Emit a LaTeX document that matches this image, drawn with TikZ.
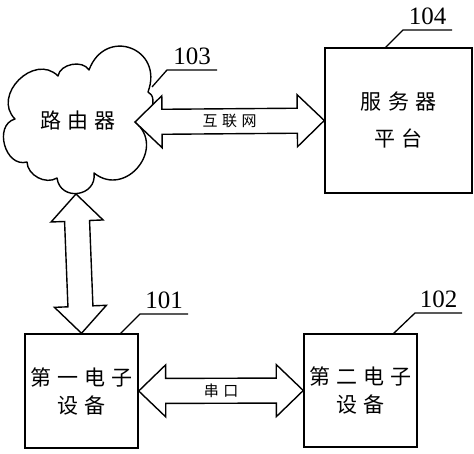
\documentclass[tikz,border=0pt]{standalone}
\usepackage{fontspec}
\setmainfont{Liberation Serif}
\newfontfamily\cjk{Noto Sans CJK SC}
\usetikzlibrary{positioning, calc}

% gap between chinese characters
\newcommand{\cg}{\kern0.3em}

\def\headlen{27pt}
\def\headwid{26pt}
\def\shaftwid{12.5pt}

% fat double arrow from #1 to #2
\newcommand{\fatarrow}[2]{%
    \draw[fat] (#1)
        -- ($(#1)!\headlen!(#2)!\headwid!90:(#2)$)
        -- ($(#1)!\headlen!(#2)!\shaftwid!90:(#2)$)
        -- ($(#2)!\headlen!(#1)!\shaftwid!-90:(#1)$)
        -- ($(#2)!\headlen!(#1)!\headwid!-90:(#1)$)
        -- (#2)
        -- ($(#2)!\headlen!(#1)!\headwid!90:(#1)$)
        -- ($(#2)!\headlen!(#1)!\shaftwid!90:(#1)$)
        -- ($(#1)!\headlen!(#2)!\shaftwid!-90:(#2)$)
        -- ($(#1)!\headlen!(#2)!\headwid!-90:(#2)$)
        -- cycle;
}

\begin{document}
\begin{tikzpicture}[x=1pt, y=-1pt,
    box/.style={draw, line width=1.4pt, align=center, inner sep=0pt,
        font=\cjk\fontsize{21}{25}\selectfont},
    fat/.style={draw, fill=white, line width=1.4pt, line join=miter},
    cloudline/.style={draw, line width=1.4pt, line join=round},
    lead/.style={line width=1.3pt},
    tag/.style={above=5pt, inner sep=0pt, font=\fontsize{25}{28}\selectfont},
    small/.style={inner sep=0pt, font=\cjk\fontsize{15}{17}\selectfont}]

    \useasboundingbox (0,0) rectangle (474,454);

    % router cloud
    \draw[cloudline] (15,119)
        to[bend left=90, looseness=1.4] (58,76)
        to[bend left=70] (89,70)
        to[bend left=90, looseness=1.9] (148,92)
        to[bend left=90, looseness=1.05] (135,122)
        to[bend left=90, looseness=1.6] (94,173)
        to[bend left=90, looseness=1.65] (57,178)
        to[bend left=60] (27,162)
        to[bend left=90, looseness=1.3] (15,119) -- cycle;
    \node[box, draw=none] (router) at (78,121) {路\cg 由\cg 器};
    \coordinate (rt) at (135,122);
    \coordinate (rb) at (76,194);

    % boxes
    \node[box, minimum width=147pt, minimum height=145pt] (server) at (398.5,120.5)
        {服\cg 务\cg 器\\[12pt]平\cg 台};
    \node[box, minimum width=113pt, minimum height=114pt] (dev1) at (81.5,391)
        {第\cg 一\cg 电\cg 子\\[3pt]设\cg 备};
    \node[box, minimum width=113pt, minimum height=113pt] (dev2) at (360.5,390.5)
        {第\cg 二\cg 电\cg 子\\[3pt]设\cg 备};

    % fat arrows
    \fatarrow{rt}{server.west}
    \fatarrow{rb}{dev1.north}
    \fatarrow{dev1.east}{dev2.west}

    \path (rt) -- (server.west) node[midway, small] (inet) {互\cg 联\cg 网};
    \path (dev1.east) -- (dev2.west) node[midway, small] (uart) {串\cg 口};

    % reference numbers
    \draw[lead] (152,87) -- (167,70) -- (217,70) node[midway, tag] {103};
    \draw[lead] (385,48) -- (403,30) -- (452,30) node[midway, tag] {104};
    \draw[lead] (120,334) -- (140,314) -- (188,314) node[midway, tag] {101};
    \draw[lead] (393,334) -- (415,313) -- (462,313) node[midway, tag] {102};
\end{tikzpicture}
\end{document}
